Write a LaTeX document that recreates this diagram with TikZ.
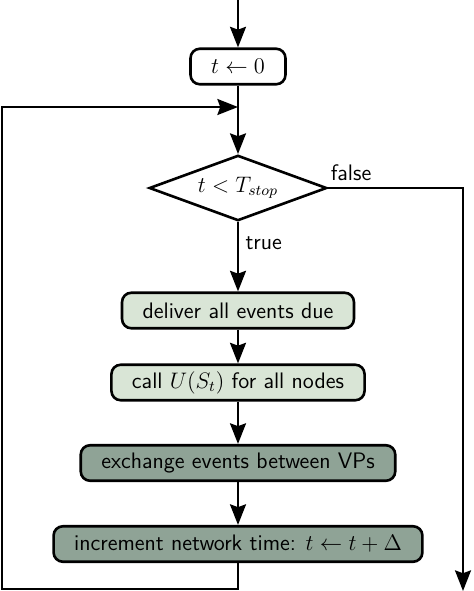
\documentclass[tikz,border=0pt]{standalone}
\usetikzlibrary{shapes.geometric,arrows.meta}

\definecolor{boxlight}{RGB}{217,229,214}
\definecolor{boxdark}{RGB}{143,163,150}

\tikzset{
  flow/.style={line width=1.4pt},
  arr/.style={flow, -{Stealth[length=11pt,width=8.5pt,inset=1.5pt]}},
  txt/.style={font=\sffamily\fontsize{12}{14}\selectfont},
  stepbox/.style={draw, txt, line width=1.4pt, rounded corners=5pt, inner xsep=11pt,
    minimum height=19pt},
  decision/.style={draw, txt, line width=1.4pt, diamond, aspect=2.7, inner sep=0pt,
    minimum width=95pt, minimum height=35pt},
}

\begin{document}
\begin{tikzpicture}[x=0.535pt, y=-0.535pt]

  \useasboundingbox (0,0) rectangle (474,591);

  \coordinate (in) at (238,0);
  \node[stepbox] (init) at (238,66.5) {$t \leftarrow 0$};
  \coordinate (join) at (238,107);
  \node[decision] (test) at (238,188) {$t < T_{stop}$};
  \node[stepbox, fill=boxlight] (deliver) at (238,310.5) {deliver all events due};
  \node[stepbox, fill=boxlight] (update) at (238,382.5) {call $U(S_t)$ for all nodes};
  \node[stepbox, fill=boxdark] (exchange) at (238,463) {exchange events between VPs};
  \node[stepbox, fill=boxdark] (advance) at (238,544) {increment network time: $t \leftarrow t + \Delta$};
  \coordinate (out) at (463,591);
  \coordinate (back) at (2,589);

  \draw[arr] (in) -- (init);
  \draw[flow] (init) -- (join);
  \draw[arr] (join) -- (test);
  \draw[arr] (test) -- node[right, pos=0.3, txt] {true} (deliver);
  \draw[arr] (deliver) -- (update);
  \draw[arr] (update) -- (exchange);
  \draw[arr] (exchange) -- (advance);
  \draw[arr] (test.east) -- node[above, pos=0.17, txt] {false} (out |- test) -- (out);
  \draw[arr] (advance.south) |- (back) |- (join);
  \end{tikzpicture}
\end{document}
